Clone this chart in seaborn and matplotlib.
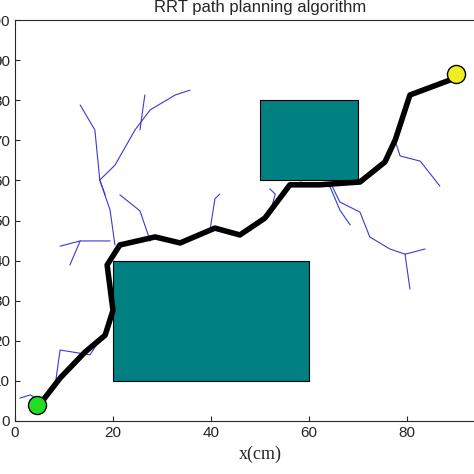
import matplotlib
matplotlib.use("Agg")
import matplotlib.pyplot as plt
import seaborn as sns
import pandas as pd
from matplotlib.patches import Rectangle

sns.set_style("ticks")
plt.rcParams['font.family'] = ['Liberation Sans', 'DejaVu Sans']

path_x = [5.1, 9.2, 14.3, 18.4, 20.0, 18.8, 21.4, 28.6, 33.7, 40.8, 45.9, 51.0, 56.1, 62.2, 70.4, 75.5, 77.6, 80.6, 89.8]
path_y = [4.2, 10.7, 17.2, 21.4, 27.6, 38.9, 43.9, 45.9, 44.4, 48.1, 46.4, 50.6, 58.9, 58.9, 59.6, 64.6, 70.1, 81.3, 85.5]

branches = [
    [(20.4,43.9),(19.4,52.6),(17.3,60.1),(16.3,72.6),(13.3,78.8)],
    [(17.3,60.1),(20.4,63.8),(24.5,72.6),(27.6,77.6),(32.7,81.3),(35.7,82.5)],
    [(25.5,72.6),(26.5,81.3)],
    [(17.3,60.1),(18.4,56.4)],
    [(19.4,44.9),(13.3,44.9),(9.2,43.6)],
    [(13.3,44.9),(11.2,38.9)],
    [(8.2,8.98),(9.2,17.7),(15.3,16.5),(17.3,20.2)],
    [(5.1,5.2),(3.1,6.5),(1.0,5.7)],
    [(39.8,47.6),(40.8,55.4),(41.8,56.6)],
    [(52.0,51.6),(53.1,56.6),(52.0,57.9)],
    [(64.3,59.6),(66.3,54.6),(70.4,52.1),(72.4,45.9),(76.5,42.9),(79.6,41.6),(83.7,42.9)],
    [(79.6,41.6),(80.6,32.9)],
    [(77.6,69.8),(78.6,66.1),(82.7,64.8),(86.7,58.6)],
    [(58.2,59.6),(64.3,58.4),(66.3,52.6),(68.4,48.9)],
    [(27.6,44.9),(25.5,52.4),(21.4,56.4)],
]

obstacles = [(20, 10, 40, 30), (50, 60, 20, 20)]
start = (4.5, 4.0)
goal = (90.0, 86.5)

fig = plt.figure(figsize=(4.74, 4.74), dpi=100)
ax = fig.add_axes([15/474, 53/474, 490/474, 401/474])

for b in branches:
    df = pd.DataFrame(b, columns=["x", "y"])
    sns.lineplot(data=df, x="x", y="y", sort=False, estimator=None, color="#3a3ad0", lw=0.8, ax=ax)

for (x0, y0, w, h) in obstacles:
    ax.add_patch(Rectangle((x0, y0), w, h, facecolor="#008080", edgecolor="black", lw=0.8, zorder=3))

sns.lineplot(x=path_x, y=path_y, sort=False, estimator=None, color="black", lw=4, ax=ax, zorder=4)
ax.plot(*start, 'o', ms=13, mfc="#22dd22", mec="black", zorder=5)
ax.plot(*goal, 'o', ms=13, mfc="#eeee22", mec="black", zorder=5)

ax.set_xlim(0, 100)
ax.set_ylim(0, 100)
ax.set_xticks([0, 20, 40, 60, 80])
ax.set_yticks(range(0, 101, 10))
ax.tick_params(direction="in", labelsize=11)
ax.set_xlabel("x(cm)", fontsize=13, family="Liberation Serif")
ax.set_ylabel("")
ax.set_title("RRT path planning algorithm", fontsize=12)
fig.savefig("out.png", dpi=100)
